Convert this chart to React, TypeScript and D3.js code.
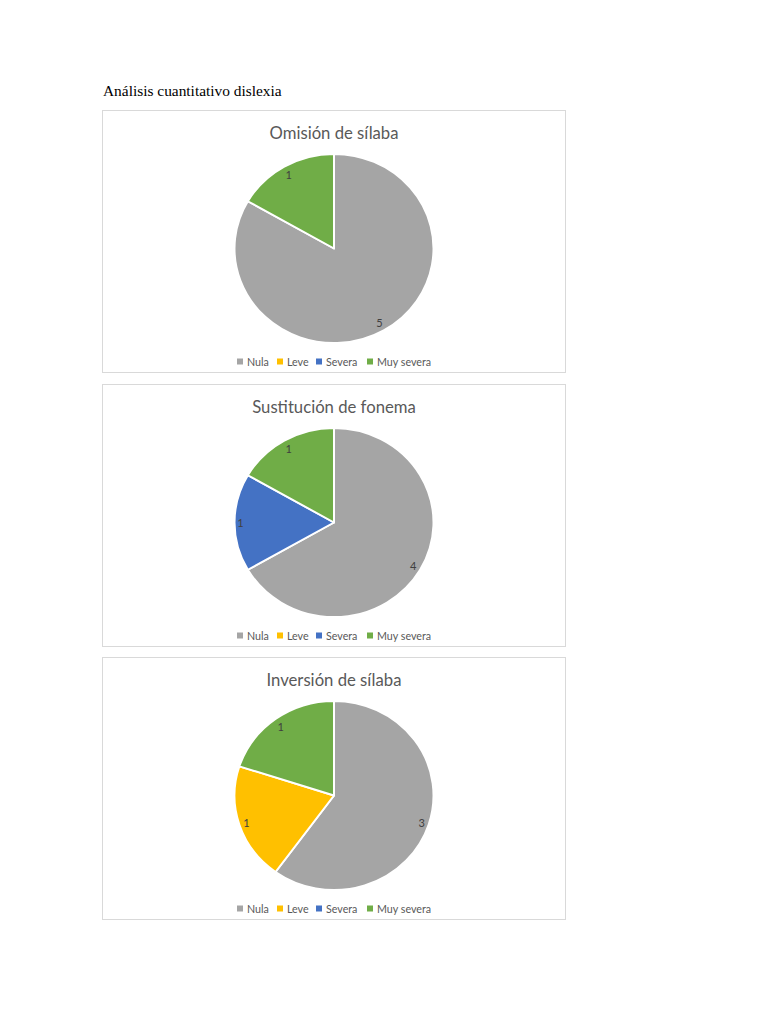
import React from "react";
import * as d3 from "d3";

const categories = ["Nula", "Leve", "Severa", "Muy severa"];
const colors = ["#A5A5A5", "#FFC000", "#4472C4", "#70AD47"];
const chartTitles = ["Omisión de sílaba", "Sustitución de fonema", "Inversión de sílaba"];
const omisionValues = [5, 0, 0, 1];
const sustitucionValues = [4, 0, 1, 1];
const inversionValues = [3, 1, 0, 1];
const heading = "Análisis cuantitativo dislexia";

const seriesList = [omisionValues, sustitucionValues, inversionValues];

const BOX_X = 102.5;
const BOX_W = 463;
const BOX_H = 262;
const BOX_TOPS = [110.5, 384.5, 657.5];
const R = 99.5;
const SY = 0.95;

function PieChart({ title, values, top }: { title: string; values: number[]; top: number }) {
  const cx = 334;
  const cy = top + 138;
  const pie = d3.pie<number>().sort(null).value((d) => d);
  const arcs = pie(values);
  const arc = d3.arc<d3.PieArcDatum<number>>().innerRadius(0).outerRadius(R);
  const font = "Lato, 'Open Sans', sans-serif";

  const legendX = d3.scaleOrdinal<string, number>().domain(categories).range([237, 277, 316, 367]);

  return (
    <g>
      <rect x={BOX_X} y={top} width={BOX_W} height={BOX_H} fill="#fff" stroke="#D9D9D9" strokeWidth={1} />
      <text x={cx} y={top + 28} textAnchor="middle" fontFamily={font} fontSize={16.7} fill="#595959">
        {title}
      </text>
      <g transform={`translate(${cx},${cy}) scale(1,${SY})`}>
        {arcs.map((a, i) =>
          a.value > 0 ? (
            <path key={i} d={arc(a) || ""} fill={colors[i]} stroke="#fff" strokeWidth={2} strokeLinejoin="round" />
          ) : null
        )}
      </g>
      {arcs.map((a, i) => {
        if (a.value <= 0) return null;
        const mid = (a.startAngle + a.endAngle) / 2;
        const s = Math.sin(mid);
        const c = Math.cos(mid);
        const off = 3 * Math.abs(s) + 5 * Math.abs(c) + 3;
        const rx = R - off;
        const ry = R * SY - off;
        const x = cx + rx * s;
        const y = cy - ry * c;
        return (
          <text key={i} x={x} y={y} textAnchor="middle" dominantBaseline="central" fontFamily={font} fontSize={11} fill="#404040">
            {a.value}
          </text>
        );
      })}
      {categories.map((cat, i) => (
        <g key={cat}>
          <rect x={legendX(cat)} y={top + 248} width={6} height={6} fill={colors[i]} />
          <text x={legendX(cat) + 10} y={top + 255} fontFamily={font} fontSize={10.7} fill="#595959">
            {cat}
          </text>
        </g>
      ))}
    </g>
  );
}

export default function App() {
  return (
    <div style={{ position: "absolute", left: 0, top: 0 }}>
      <svg width={768} height={1024} style={{ display: "block", background: "#fff" }}>
        <text x={103} y={96} fontFamily="'Liberation Serif', 'Times New Roman', serif" fontSize={15.4} fill="#000">
          {heading}
        </text>
        {seriesList.map((vals, i) => (
          <PieChart key={i} title={chartTitles[i]} values={vals} top={BOX_TOPS[i]} />
        ))}
      </svg>
    </div>
  );
}
